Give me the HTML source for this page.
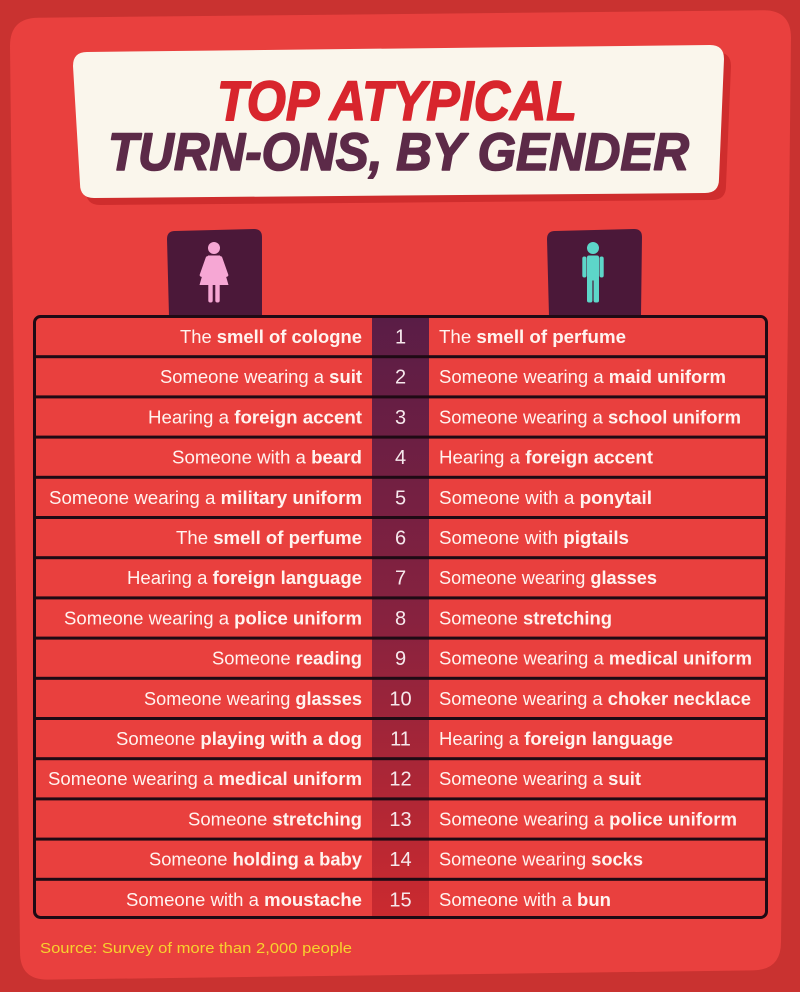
<!DOCTYPE html>
<html><head><meta charset="utf-8"><style>
html,body{margin:0;padding:0;background:#c93230;}
svg{display:block;}
.t{font-family:"Liberation Sans",Arial,sans-serif;font-size:18px;fill:#fff3ef;}
.b{font-weight:700;}
.n{font-family:"Liberation Sans",Arial,sans-serif;font-size:20px;fill:#f6e8ec;text-anchor:middle;}
</style></head><body>
<svg width="800" height="992" viewBox="0 0 800 992" xmlns="http://www.w3.org/2000/svg">
<defs>
<linearGradient id="rk" x1="0" y1="318" x2="0" y2="918" gradientUnits="userSpaceOnUse">
<stop offset="0" stop-color="#5a1d46"/>
<stop offset="0.5" stop-color="#87223f"/>
<stop offset="1" stop-color="#cb2a2f"/>
</linearGradient>
</defs>
<rect width="800" height="992" fill="#c93230"/>
<!-- card -->
<path d="M38,17.7 L763,10.3 Q791,10 791,38 L781,942 Q781,970 753,970.4 L48,979.6 Q20,980 20,952 L10,46 Q10,18 38,17.7 Z" fill="#e9403e"/>
<!-- title box shadow -->
<path d="M93,59 L716,52 Q731,52 731,66 L726,186 Q726,200 712,200 L100,205 Q86,205 86,191 L79,73 Q79,59 93,59 Z" fill="#cf2d2d"/>
<!-- title box -->
<path d="M87,52 L710,45 Q724,45 724,59 L719,179 Q719,193 705,193 L94,198 Q80,198 80,184 L73,66 Q73,52 87,52 Z" fill="#faf6ec"/>
<text x="217" y="120" textLength="360" lengthAdjust="spacingAndGlyphs" font-family="Liberation Sans, Arial, sans-serif" font-weight="700" font-style="italic" font-size="56" fill="#d8252d" stroke="#d8252d" stroke-width="1.6" stroke-linejoin="round">TOP ATYPICAL</text>
<text x="108" y="170" textLength="581" lengthAdjust="spacingAndGlyphs" font-family="Liberation Sans, Arial, sans-serif" font-weight="700" font-style="italic" font-size="53" fill="#5c2a48" stroke="#5c2a48" stroke-width="1.6" stroke-linejoin="round">TURN-ONS, BY GENDER</text>
<!-- gender boxes -->
<path d="M175,231 L254,229 Q262,229 262,237 L262,316 L169,316 L167,239 Q167,231 175,231 Z" fill="#4b1839"/>
<path d="M555,231 L634,229 Q642,229 642,237 L641,316 L549,316 L547,239 Q547,231 555,231 Z" fill="#4b1839"/>
<!-- female icon -->
<g fill="#f6a7d4" stroke="none">
<circle cx="214" cy="248" r="6"/>
<path d="M208,255.5 L220,255.5 L228.5,285 L199.5,285 Z"/>
<rect x="208.3" y="283" width="4.4" height="19.5" rx="2"/>
<rect x="215.3" y="283" width="4.4" height="19.5" rx="2"/>
</g>
<g stroke="#f6a7d4" stroke-width="3.6" stroke-linecap="round" fill="none">
<line x1="207.5" y1="258" x2="201.5" y2="275"/>
<line x1="220.5" y1="258" x2="226.5" y2="275"/>
</g>
<!-- male icon -->
<g fill="#5dd6c9">
<circle cx="593" cy="248" r="6"/>
<rect x="587" y="255.5" width="12" height="25" rx="2"/>
<rect x="582.3" y="256.5" width="4.2" height="21" rx="2"/>
<rect x="599.5" y="256.5" width="4.2" height="21" rx="2"/>
<rect x="587" y="276" width="5.4" height="26.5" rx="2"/>
<rect x="593.6" y="276" width="5.4" height="26.5" rx="2"/>
</g>
<!-- table -->
<rect x="34.5" y="316.5" width="732" height="601" rx="6" fill="#e9403e" stroke="#1f0a14" stroke-width="3"/>
<rect x="372" y="318" width="57" height="598" fill="url(#rk)"/>
<g fill="#1f0a14">
<rect x="36" y="355.2" width="730" height="3"/>
<rect x="36" y="395.4" width="730" height="3"/>
<rect x="36" y="435.6" width="730" height="3"/>
<rect x="36" y="475.8" width="730" height="3"/>
<rect x="36" y="516.0" width="730" height="3"/>
<rect x="36" y="556.2" width="730" height="3"/>
<rect x="36" y="596.4" width="730" height="3"/>
<rect x="36" y="636.6" width="730" height="3"/>
<rect x="36" y="676.8" width="730" height="3"/>
<rect x="36" y="717.0" width="730" height="3"/>
<rect x="36" y="757.2" width="730" height="3"/>
<rect x="36" y="797.4" width="730" height="3"/>
<rect x="36" y="837.6" width="730" height="3"/>
<rect x="36" y="877.8" width="730" height="3"/>
</g>
<!-- left column -->
<g class="t" text-anchor="start">
<text class="t" x="180" y="343" textLength="182" lengthAdjust="spacingAndGlyphs">The <tspan class="b">smell of cologne</tspan></text>
<text class="t" x="160" y="383.2" textLength="202" lengthAdjust="spacingAndGlyphs">Someone wearing a <tspan class="b">suit</tspan></text>
<text class="t" x="148" y="423.4" textLength="214" lengthAdjust="spacingAndGlyphs">Hearing a <tspan class="b">foreign accent</tspan></text>
<text class="t" x="172" y="463.6" textLength="190" lengthAdjust="spacingAndGlyphs">Someone with a <tspan class="b">beard</tspan></text>
<text class="t" x="49" y="503.8" textLength="313" lengthAdjust="spacingAndGlyphs">Someone wearing a <tspan class="b">military uniform</tspan></text>
<text class="t" x="176" y="544" textLength="186" lengthAdjust="spacingAndGlyphs">The <tspan class="b">smell of perfume</tspan></text>
<text class="t" x="127" y="584.2" textLength="235" lengthAdjust="spacingAndGlyphs">Hearing a <tspan class="b">foreign language</tspan></text>
<text class="t" x="64" y="624.4" textLength="298" lengthAdjust="spacingAndGlyphs">Someone wearing a <tspan class="b">police uniform</tspan></text>
<text class="t" x="212" y="664.6" textLength="150" lengthAdjust="spacingAndGlyphs">Someone <tspan class="b">reading</tspan></text>
<text class="t" x="144" y="704.8" textLength="218" lengthAdjust="spacingAndGlyphs">Someone wearing <tspan class="b">glasses</tspan></text>
<text class="t" x="116" y="745" textLength="246" lengthAdjust="spacingAndGlyphs">Someone <tspan class="b">playing with a dog</tspan></text>
<text class="t" x="48" y="785.2" textLength="314" lengthAdjust="spacingAndGlyphs">Someone wearing a <tspan class="b">medical uniform</tspan></text>
<text class="t" x="188" y="825.4" textLength="174" lengthAdjust="spacingAndGlyphs">Someone <tspan class="b">stretching</tspan></text>
<text class="t" x="149" y="865.6" textLength="213" lengthAdjust="spacingAndGlyphs">Someone <tspan class="b">holding a baby</tspan></text>
<text class="t" x="126" y="905.8" textLength="236" lengthAdjust="spacingAndGlyphs">Someone with a <tspan class="b">moustache</tspan></text>
</g>
<!-- ranks -->
<text class="n" x="400.5" y="343.5">1</text>
<text class="n" x="400.5" y="383.7">2</text>
<text class="n" x="400.5" y="423.9">3</text>
<text class="n" x="400.5" y="464.1">4</text>
<text class="n" x="400.5" y="504.3">5</text>
<text class="n" x="400.5" y="544.5">6</text>
<text class="n" x="400.5" y="584.7">7</text>
<text class="n" x="400.5" y="624.9">8</text>
<text class="n" x="400.5" y="665.1">9</text>
<text class="n" x="400.5" y="705.3">10</text>
<text class="n" x="400.5" y="745.5">11</text>
<text class="n" x="400.5" y="785.7">12</text>
<text class="n" x="400.5" y="825.9">13</text>
<text class="n" x="400.5" y="866.1">14</text>
<text class="n" x="400.5" y="906.3">15</text>
<!-- right column -->
<text class="t" x="439" y="343" textLength="187" lengthAdjust="spacingAndGlyphs">The <tspan class="b">smell of perfume</tspan></text>
<text class="t" x="439" y="383.2" textLength="287" lengthAdjust="spacingAndGlyphs">Someone wearing a <tspan class="b">maid uniform</tspan></text>
<text class="t" x="439" y="423.4" textLength="302" lengthAdjust="spacingAndGlyphs">Someone wearing a <tspan class="b">school uniform</tspan></text>
<text class="t" x="439" y="463.6" textLength="214" lengthAdjust="spacingAndGlyphs">Hearing a <tspan class="b">foreign accent</tspan></text>
<text class="t" x="439" y="503.8" textLength="213" lengthAdjust="spacingAndGlyphs">Someone with a <tspan class="b">ponytail</tspan></text>
<text class="t" x="439" y="544" textLength="190" lengthAdjust="spacingAndGlyphs">Someone with <tspan class="b">pigtails</tspan></text>
<text class="t" x="439" y="584.2" textLength="218" lengthAdjust="spacingAndGlyphs">Someone wearing <tspan class="b">glasses</tspan></text>
<text class="t" x="439" y="624.4" textLength="173" lengthAdjust="spacingAndGlyphs">Someone <tspan class="b">stretching</tspan></text>
<text class="t" x="439" y="664.6" textLength="313" lengthAdjust="spacingAndGlyphs">Someone wearing a <tspan class="b">medical uniform</tspan></text>
<text class="t" x="439" y="704.8" textLength="312" lengthAdjust="spacingAndGlyphs">Someone wearing a <tspan class="b">choker necklace</tspan></text>
<text class="t" x="439" y="745" textLength="234" lengthAdjust="spacingAndGlyphs">Hearing a <tspan class="b">foreign language</tspan></text>
<text class="t" x="439" y="785.2" textLength="202" lengthAdjust="spacingAndGlyphs">Someone wearing a <tspan class="b">suit</tspan></text>
<text class="t" x="439" y="825.4" textLength="298" lengthAdjust="spacingAndGlyphs">Someone wearing a <tspan class="b">police uniform</tspan></text>
<text class="t" x="439" y="865.6" textLength="204" lengthAdjust="spacingAndGlyphs">Someone wearing <tspan class="b">socks</tspan></text>
<text class="t" x="439" y="905.8" textLength="172" lengthAdjust="spacingAndGlyphs">Someone with a <tspan class="b">bun</tspan></text>
<!-- source -->
<text x="40" y="953" textLength="312" lengthAdjust="spacingAndGlyphs" font-family="Liberation Sans, Arial, sans-serif" font-size="15" fill="#f7d22e">Source: Survey of more than 2,000 people</text>
</svg>
</body></html>
